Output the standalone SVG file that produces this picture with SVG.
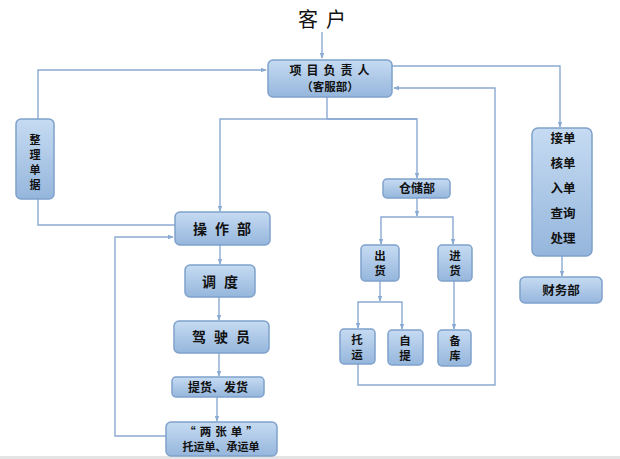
<svg xmlns="http://www.w3.org/2000/svg" width="620" height="459" viewBox="0 0 620 459">
<defs>
<linearGradient id="g" x1="0" y1="0" x2="0" y2="1">
<stop offset="0" stop-color="#c6dbf2"/>
<stop offset="1" stop-color="#95b6dc"/>
</linearGradient>
<marker id="a" viewBox="0 0 8 8" refX="7" refY="4" markerWidth="6" markerHeight="6" orient="auto" markerUnits="userSpaceOnUse">
<path d="M0,1 L8,4 L0,7 Z" fill="#8aaad2"/>
</marker>
<style>
.b{fill:url(#g);stroke:#7fa1cb;stroke-width:1.5}
.t{font-family:"Noto Sans CJK SC","Noto Sans CJK JP",sans-serif;font-weight:bold;fill:#111;text-anchor:middle}
.c{fill:none;stroke:#8aaad2;stroke-width:1.4}
.m{marker-end:url(#a)}
</style>
</defs>
<rect width="620" height="459" fill="#fff"/>
<rect x="0" y="456" width="620" height="3" fill="#e4e4e4"/>
<g id="connectors">
<path class="c m" d="M322,32 V58"/>
<path class="c m" d="M38,119 V70 H266"/>
<path class="c" d="M38,199 V225 H175"/>
<path class="c m" d="M392,66 H560 V127"/>
<path class="c m" d="M358,364 V385 H495 V88 H394"/>
<path class="c" d="M327,97 V119"/>
<path class="c m" d="M417,119 H220 V211"/>
<path class="c m" d="M327,119 H417 V178"/>
<path class="c m" d="M417,198 V216"/>
<path class="c m" d="M417,217 H381 V244"/>
<path class="c m" d="M417,217 H453 V244"/>
<path class="c m" d="M380,281 V301"/>
<path class="c m" d="M380,302 H358 V328"/>
<path class="c m" d="M380,302 H402 V329"/>
<path class="c m" d="M454,281 V329"/>
<path class="c m" d="M562,256 V276"/>
<path class="c m" d="M220,245 V264"/>
<path class="c m" d="M219,297 V320"/>
<path class="c m" d="M219,353 V376"/>
<path class="c m" d="M217,397 V421"/>
<path class="c m" d="M166,436 H115 V237 H173"/>
</g>
<g id="customer"><text x="326" y="27" font-family="Noto Sans CJK SC,sans-serif" font-size="20" letter-spacing="8" text-anchor="middle" fill="#111">客户</text></g>
<g id="manager"><rect class="b" x="268" y="60" width="124" height="37" rx="5"/><text class="t" x="332" y="75" font-size="12" letter-spacing="5">项目负责人</text><text class="t" x="330" y="91" font-size="11.5">（客服部）</text></g>
<g id="docs"><rect class="b" x="16" y="119" width="38" height="80" rx="5"/><text class="t" font-size="11"><tspan x="35" y="144">整</tspan><tspan x="35" y="159">理</tspan><tspan x="35" y="174">单</tspan><tspan x="35" y="189">据</tspan></text></g>
<g id="ops"><rect class="b" x="175" y="212" width="95" height="33" rx="5"/><text class="t" x="226" y="234" font-size="14" letter-spacing="8">操作部</text></g>
<g id="dispatch"><rect class="b" x="185" y="265" width="70" height="32" rx="5"/><text class="t" x="224" y="287" font-size="14" letter-spacing="8">调度</text></g>
<g id="driver"><rect class="b" x="174" y="321" width="95" height="32" rx="5"/><text class="t" x="225" y="342" font-size="14" letter-spacing="8">驾驶员</text></g>
<g id="pickup"><rect class="b" x="172" y="377" width="92" height="20" rx="4"/><text class="t" x="218" y="392" font-size="12">提货、发货</text></g>
<g id="twobills"><rect class="b" x="166" y="422" width="111" height="34" rx="5"/><text class="t" x="223" y="435.5" font-size="11.5" letter-spacing="4">“两张单”</text><text class="t" x="221" y="451" font-size="11">托运单、承运单</text></g>
<g id="warehouse"><rect class="b" x="383" y="179" width="67" height="19" rx="4"/><text class="t" x="417" y="193" font-size="12">仓储部</text></g>
<g id="out"><rect class="b" x="361" y="245" width="38" height="36" rx="4"/><text class="t" font-size="11.5"><tspan x="380" y="260">出</tspan><tspan x="380" y="275">货</tspan></text></g>
<g id="in"><rect class="b" x="438" y="245" width="34" height="36" rx="4"/><text class="t" font-size="11.5"><tspan x="455" y="260">进</tspan><tspan x="455" y="275">货</tspan></text></g>
<g id="ship"><rect class="b" x="340" y="329" width="35" height="35" rx="4"/><text class="t" font-size="11.5"><tspan x="357" y="344">托</tspan><tspan x="357" y="359">运</tspan></text></g>
<g id="self"><rect class="b" x="388" y="330" width="35" height="35" rx="4"/><text class="t" font-size="11.5"><tspan x="405" y="345">自</tspan><tspan x="405" y="360">提</tspan></text></g>
<g id="stock"><rect class="b" x="438" y="330" width="33" height="36" rx="4"/><text class="t" font-size="11"><tspan x="455" y="345">备</tspan><tspan x="455" y="360">库</tspan></text></g>
<g id="orders"><rect class="b" x="532" y="128" width="60" height="128" rx="6"/><text class="t" font-size="12.5"><tspan x="563" y="143">接单</tspan><tspan x="563" y="168">核单</tspan><tspan x="563" y="193">入单</tspan><tspan x="563" y="218">查询</tspan><tspan x="563" y="243">处理</tspan></text></g>
<g id="finance"><rect class="b" x="520" y="277" width="82" height="26" rx="5"/><text class="t" x="561" y="295" font-size="12.5">财务部</text></g>
</svg>
